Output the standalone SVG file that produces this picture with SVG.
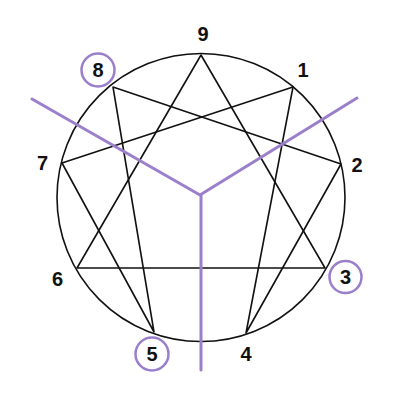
<svg xmlns="http://www.w3.org/2000/svg" width="400" height="400" viewBox="0 0 400 400">
<style>
.lbl{font-family:"Liberation Sans",Arial,sans-serif;font-weight:bold;font-size:20px;fill:#111;text-anchor:middle}
.ln{stroke:#111;stroke-width:1.6;fill:none;stroke-linecap:round;stroke-linejoin:round}
.hl{stroke:#9b7fcb;stroke-width:2.5;fill:none}
.axis{stroke:#9b7fcb;stroke-width:3;fill:none;stroke-linecap:round;stroke-linejoin:round}
</style>
<rect width="400" height="400" fill="#fff"/>
<g id="circle"><circle class="ln" cx="201" cy="197.5" r="144"/></g>
<g id="connectors">
<polygon class="ln" points="201,55 325,268 77,268"/>
<polygon class="ln" points="293,87 246,333 341,164 113,87 154,332 62,163"/>
<polyline class="axis" points="32,99 200,195 357,98"/>
<line class="axis" x1="201" y1="195" x2="201" y2="370"/>
</g>
<g id="n9"><text class="lbl" x="203" y="41">9</text></g>
<g id="n1"><text class="lbl" x="303" y="77">1</text></g>
<g id="n2"><text class="lbl" x="357" y="172">2</text></g>
<g id="n3"><circle class="hl" cx="345.5" cy="277" r="16"/><text class="lbl" x="345.5" y="284">3</text></g>
<g id="n4"><text class="lbl" x="246" y="361">4</text></g>
<g id="n5"><circle class="hl" cx="152" cy="354" r="16.5"/><text class="lbl" x="152" y="361">5</text></g>
<g id="n6"><text class="lbl" x="57.5" y="286">6</text></g>
<g id="n7"><text class="lbl" x="42.5" y="170">7</text></g>
<g id="n8"><circle class="hl" cx="98" cy="70" r="16.5"/><text class="lbl" x="98" y="77">8</text></g>
</svg>
